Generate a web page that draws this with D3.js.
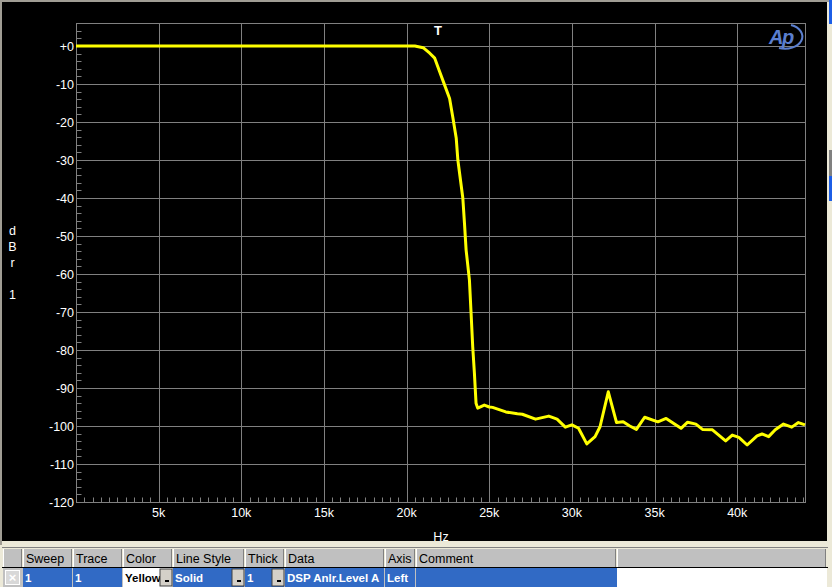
<!DOCTYPE html>
<html>
<head>
<meta charset="utf-8">
<script src="https://cdn.jsdelivr.net/npm/d3@7"></script>
<style>
html,body{margin:0;padding:0;background:#ece9d8;overflow:hidden;}
svg{display:block;}
</style>
</head>
<body>
<svg id="chart" width="832" height="587"></svg>
<script>
// ---- data ----
const freqHz = [0, 10000, 20500, 21000, 21400, 21700, 22000, 22300, 22600, 22800, 23000, 23100, 23400, 23500, 23600, 23800, 23900, 24000, 24100, 24200, 24300, 24700, 25000, 25200, 26000, 26700, 27000, 27800, 28600, 29100, 29600, 30000, 30400, 30900, 31400, 31700, 32200, 32700, 33100, 33500, 33900, 34400, 35200, 35700, 36600, 37000, 37500, 37900, 38500, 39300, 39700, 40100, 40600, 41200, 41500, 41900, 42300, 42800, 43300, 43700, 44100];
const levelDb = [0, 0, 0, -0.45, -1.9, -3.2, -6.8, -10.3, -13.8, -18.9, -24.2, -30, -40, -46.6, -53.7, -61.6, -70.3, -79.2, -86, -94, -95.3, -94.5, -95, -95.1, -96.3, -96.8, -96.9, -98.2, -97.4, -98.2, -100.3, -99.7, -100.6, -104.7, -102.8, -100.2, -91, -99.1, -98.9, -100, -100.9, -97.7, -98.9, -98, -100.6, -99, -99.5, -100.9, -101, -103.9, -102.4, -103, -105, -102.6, -102.1, -102.8, -101, -99.5, -100.3, -99.1, -99.7];
const xTickValues = [5000, 10000, 15000, 20000, 25000, 30000, 35000, 40000];
const xTickLabels = ["5k", "10k", "15k", "20k", "25k", "30k", "35k", "40k"];
const yTickValues = [0, -10, -20, -30, -40, -50, -60, -70, -80, -90, -100, -110, -120];
const yTickLabels = ["+0", "-10", "-20", "-30", "-40", "-50", "-60", "-70", "-80", "-90", "-100", "-110", "-120"];
const yAxisTitle = ["d", "B", "r", "", "1"];
const xAxisTitle = "Hz";
const tableHeaders = ["", "Sweep", "Trace", "Color", "Line Style", "Thick", "Data", "Axis", "Comment", ""];
const tableRow = ["", "1", "1", "Yellow", "Solid", "1", "DSP Anlr.Level A", "Left", "", ""];

// ---- layout ----
const svg = d3.select("#chart");
const FONT = "'Liberation Sans', Arial, sans-serif";
const plot = {left: 76, right: 805, top: 23.2, bottom: 502};
const x = d3.scaleLinear().domain([0, 44100]).range([plot.left, plot.right]);
const y = d3.scaleLinear().domain([-120, 6]).range([plot.bottom, plot.top]);
const crisp = v => Math.round(v) + 0.5;

// window frame
svg.append("rect").attr("x", 0).attr("y", 0).attr("width", 832).attr("height", 587).attr("fill", "#ece9d8");
svg.append("rect").attr("x", 0).attr("y", 0).attr("width", 832).attr("height", 2).attr("fill", "#a09d94");
svg.append("rect").attr("x", 0).attr("y", 0).attr("width", 2).attr("height", 545).attr("fill", "#a09d94");
svg.append("rect").attr("x", 2).attr("y", 2).attr("width", 825).attr("height", 539).attr("fill", "#000");
// right-edge scrap of neighbouring window
svg.append("rect").attr("x", 829).attr("y", 0).attr("width", 3).attr("height", 24).attr("fill", "#1c5ee6");
svg.append("rect").attr("x", 829).attr("y", 150).attr("width", 3).attr("height", 26).attr("fill", "#808080");
svg.append("rect").attr("x", 829).attr("y", 176).attr("width", 3).attr("height", 25).attr("fill", "#1c5ee6");

// grid
const gridColor = "#808080";
svg.append("g").selectAll("line").data(xTickValues).join("line")
  .attr("x1", d => crisp(x(d))).attr("x2", d => crisp(x(d)))
  .attr("y1", plot.top).attr("y2", plot.bottom)
  .attr("stroke", gridColor).attr("stroke-width", 1);
svg.append("g").selectAll("line").data(yTickValues).join("line")
  .attr("y1", d => crisp(y(d))).attr("y2", d => crisp(y(d)))
  .attr("x1", plot.left).attr("x2", plot.right)
  .attr("stroke", gridColor).attr("stroke-width", 1);
svg.append("rect")
  .attr("x", crisp(plot.left)).attr("y", crisp(plot.top))
  .attr("width", Math.round(plot.right) - Math.round(plot.left))
  .attr("height", Math.round(plot.bottom) - Math.round(plot.top))
  .attr("fill", "none").attr("stroke", gridColor);

// minor ticks
const xMinor = d3.range(500, 44100, 500).filter(v => v % 5000 !== 0);
svg.append("g").selectAll("line").data(xMinor).join("line")
  .attr("x1", d => crisp(x(d))).attr("x2", d => crisp(x(d)))
  .attr("y1", crisp(plot.bottom)).attr("y2", crisp(plot.bottom) - 5)
  .attr("stroke", gridColor);
const yMinor = d3.range(-118, 6.1, 2).filter(v => v % 10 !== 0);
svg.append("g").selectAll("line").data(yMinor).join("line")
  .attr("y1", d => crisp(y(d))).attr("y2", d => crisp(y(d)))
  .attr("x1", crisp(plot.left)).attr("x2", crisp(plot.left) + 5)
  .attr("stroke", gridColor);

// tick labels
svg.append("g").selectAll("text").data(yTickValues).join("text")
  .attr("x", 74).attr("y", d => y(d)).attr("dy", "0.36em")
  .attr("text-anchor", "end").attr("fill", "#fff")
  .attr("font-family", FONT).attr("font-size", 12.5)
  .text((d, i) => yTickLabels[i]);
svg.append("g").selectAll("text").data(xTickValues).join("text")
  .attr("x", d => x(d)).attr("y", 517)
  .attr("text-anchor", "middle").attr("fill", "#fff")
  .attr("font-family", FONT).attr("font-size", 12.5)
  .text((d, i) => xTickLabels[i]);

// axis titles
svg.append("text").attr("x", 441).attr("y", 541).attr("text-anchor", "middle")
  .attr("fill", "#fff").attr("font-family", FONT).attr("font-size", 12.5).text(xAxisTitle);
svg.append("g").selectAll("text").data(yAxisTitle).join("text")
  .attr("x", 12.5).attr("y", (d, i) => 235 + i * 16)
  .attr("text-anchor", "middle").attr("fill", "#fff")
  .attr("font-family", FONT).attr("font-size", 12.5).text(d => d);

// "T" marker
svg.append("text").attr("x", 438).attr("y", 35).attr("text-anchor", "middle")
  .attr("fill", "#fff").attr("font-family", FONT).attr("font-weight", "bold").attr("font-size", 13).text("T");

// AP logo
const logo = svg.append("g").attr("transform", "translate(769,25)");
logo.append("path")
  .attr("d", "M 22 0 A 17 12 0 1 1 10 23")
  .attr("fill", "none").attr("stroke", "#5b7fcf").attr("stroke-width", 2);
logo.append("text").attr("x", 0).attr("y", 19)
  .attr("fill", "#5b7fcf").attr("font-family", FONT).attr("font-style", "italic").attr("font-weight", "bold")
  .attr("font-size", 20).attr("letter-spacing", -1.5).text("Ap");

// trace
const line = d3.line().x((d, i) => x(freqHz[i])).y(d => y(d));
svg.append("path").datum(levelDb)
  .attr("d", line).attr("fill", "none")
  .attr("stroke", "#ffff00").attr("stroke-width", 3)
  .attr("stroke-linejoin", "round");

// ---- table ----
const colEdges = [3, 23, 73, 123, 173, 245, 285, 385, 416, 617, 827];
const headY = 549, headH = 19, rowY = 568, rowH = 19;
svg.append("rect").attr("x", 0).attr("y", 545).attr("width", 832).attr("height", 42).attr("fill", "#ece9d8");
svg.append("rect").attr("x", 2).attr("y", 547).attr("width", 826).attr("height", 1).attr("fill", "#808080");
const tbl = svg.append("g");
tableHeaders.forEach((h, i) => {
  const x0 = colEdges[i], w = colEdges[i + 1] - colEdges[i] - 1;
  tbl.append("rect").attr("x", x0).attr("y", headY).attr("width", w).attr("height", headH)
    .attr("fill", "#c0c0c0");
  tbl.append("line").attr("x1", x0 + 0.5).attr("x2", x0 + 0.5).attr("y1", headY).attr("y2", headY + headH)
    .attr("stroke", "#fff");
  tbl.append("line").attr("x1", x0 + w - 0.5).attr("x2", x0 + w - 0.5).attr("y1", headY).attr("y2", headY + headH)
    .attr("stroke", "#808080");
  if (h) tbl.append("text").attr("x", x0 + 3).attr("y", headY + 14)
    .attr("fill", "#000").attr("font-family", FONT).attr("font-size", 12.5).text(h);
});
svg.append("rect").attr("x", 2).attr("y", headY + headH - 1).attr("width", 826).attr("height", 1).attr("fill", "#000");
tableRow.forEach((v, i) => {
  const x0 = colEdges[i], w = colEdges[i + 1] - colEdges[i] - 1;
  let fill = "#316ac5";
  if (i === 0) fill = "#c0c0c0";
  if (i === 3 || i === 9) fill = "#ffffff";
  tbl.append("rect").attr("x", x0).attr("y", rowY).attr("width", w + 1).attr("height", rowH).attr("fill", fill);
  if (v) tbl.append("text").attr("x", x0 + 2).attr("y", rowY + 14)
    .attr("fill", i === 3 ? "#000" : "#fff").attr("font-family", FONT)
    .attr("font-weight", "bold").attr("font-size", 11.5).text(v);
});
// separators between data cells
[73, 123, 173, 245, 285, 385, 416].forEach(e => {
  tbl.append("line").attr("x1", e - 0.5).attr("x2", e - 0.5).attr("y1", rowY).attr("y2", rowY + rowH)
    .attr("stroke", "#c0c0c0");
});
// checkbox
tbl.append("rect").attr("x", 5.5).attr("y", rowY + 2.5).attr("width", 14).attr("height", 14)
  .attr("fill", "#d8d8d8").attr("stroke", "#fff");
tbl.append("text").attr("x", 12.5).attr("y", rowY + 14).attr("text-anchor", "middle")
  .attr("fill", "#fff").attr("font-family", FONT).attr("font-weight", "bold").attr("font-size", 13).text("×");
// dropdown buttons
[160, 232, 272].forEach(bx => {
  tbl.append("rect").attr("x", bx).attr("y", rowY + 1).attr("width", 12).attr("height", rowH - 2)
    .attr("fill", "#d4d0c8").attr("stroke", "#404040").attr("stroke-width", 1);
  tbl.append("rect").attr("x", bx + 5).attr("y", rowY + 12).attr("width", 4).attr("height", 2).attr("fill", "#000");
});
</script>
</body>
</html>
